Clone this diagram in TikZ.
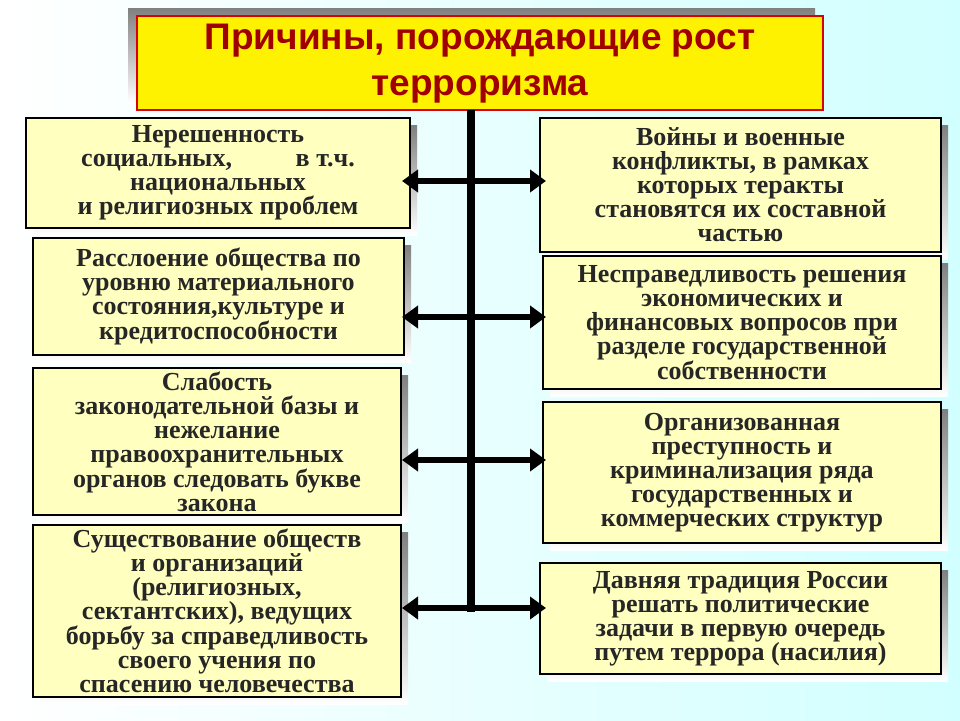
\documentclass[tikz,border=0pt]{standalone}
\usepackage{fontspec}
\setmainfont{Liberation Serif}
\newfontfamily\titlefont{Liberation Sans}
\usetikzlibrary{arrows.meta}
\definecolor{boxfill}{HTML}{FFFFC0}
\definecolor{shade}{HTML}{909090}
\definecolor{titlered}{HTML}{A00000}
\tikzset{
  causebox/.style={draw=black, line width=1.2pt, fill=boxfill, inner sep=0pt},
  causetext/.style={align=center, font=\fontsize{26}{24}\selectfont\bfseries, text=black!85},
  link/.style={line width=6pt, {Triangle[length=16pt,width=22pt]}-{Triangle[length=16pt,width=22pt]}},
}
\newcommand{\cbox}[6]{% name, x1,y1,x2,y2, text
  \fill[shade] (#2+7,#3+7) rectangle (#4+7,#5+7);
  \path[causebox] (#2,#3) rectangle (#4,#5);
  \node[causetext] (#1) at ({(#2+#4)/2},{(#3+#5)/2}) {#6};
  \coordinate (#1w) at (#2,{(#3+#5)/2});
  \coordinate (#1e) at (#4,{(#3+#5)/2});
}
\begin{document}
\begin{tikzpicture}[x=1pt,y=-1pt]
\useasboundingbox (0,0) rectangle (960,720);
\shade[left color=white, right color=cyan!18] (0,0) rectangle (960,720);
% title
\fill[shade] (128,8) rectangle (815,103);
\path[draw=red!85!black, line width=1.5pt, fill=yellow] (137,16) rectangle (823,110);
\node[align=center, text=titlered, font=\titlefont\fontsize{37}{46}\selectfont\bfseries] (title) at (480,64) {Причины, порождающие рост\\терроризма};
\coordinate (top) at (471,110);
\coordinate (bot) at (471,612);
\draw[line width=8pt] (top) -- (bot);
\cbox{l1}{26}{118}{410}{228}{Нерешенность\\социальных,\hspace{2.2em} в т.ч.\\национальных\\и религиозных проблем}
\cbox{l2}{33}{238}{404}{355}{Расслоение общества по\\уровню материального\\состояния,культуре и\\кредитоспособности}
\cbox{l3}{33}{368}{401}{515}{Слабость\\законодательной базы и\\нежелание\\правоохранительных\\органов следовать букве\\закона}
\cbox{l4}{33}{525}{401}{697}{Существование обществ\\и организаций\\(религиозных,\\сектантских), ведущих\\борьбу за справедливость\\своего учения по\\спасению человечества}
\cbox{r1}{540}{118}{941}{252}{Войны и военные\\конфликты, в рамках\\которых теракты\\становятся их составной\\частью}
\cbox{r2}{543}{256}{941}{389}{Несправедливость решения\\экономических и\\финансовых вопросов при\\разделе государственной\\собственности}
\cbox{r3}{543}{402}{941}{543}{Организованная\\преступность и\\криминализация ряда\\государственных и\\коммерческих структур}
\cbox{r4}{540}{563}{941}{674}{Давняя традиция России\\решать политические\\задачи в первую очередь\\путем террора (насилия)}
\coordinate (a1l) at (402,181); \coordinate (a1r) at (546,181);
\coordinate (a2l) at (402,317); \coordinate (a2r) at (546,317);
\coordinate (a3l) at (402,460); \coordinate (a3r) at (546,460);
\coordinate (a4l) at (402,608); \coordinate (a4r) at (546,608);
\draw[link] (a1l) -- (a1r);
\draw[link] (a2l) -- (a2r);
\draw[link] (a3l) -- (a3r);
\draw[link] (a4l) -- (a4r);
\end{tikzpicture}
\end{document}
